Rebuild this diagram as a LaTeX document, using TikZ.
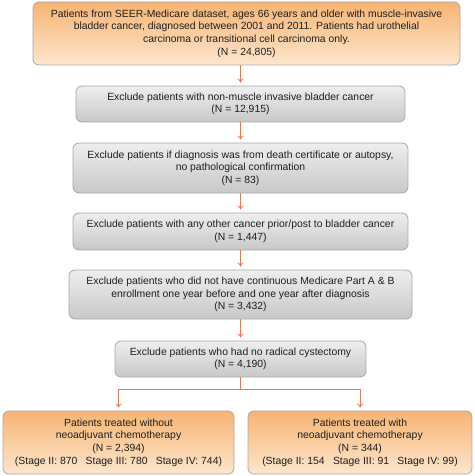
\documentclass[tikz,border=0pt]{standalone}
\usepackage{fontspec}
\setmainfont{Liberation Sans}
\usetikzlibrary{arrows.meta}
\definecolor{orT}{HTML}{F7B472}
\definecolor{orB}{HTML}{FDE6CE}
\definecolor{grT}{HTML}{EEEEEE}
\definecolor{grB}{HTML}{C8C8C8}
\definecolor{bordc}{HTML}{A8A8A8}
\definecolor{arrc}{HTML}{E27A55}
\definecolor{txtc}{HTML}{1E1E1E}
\tikzset{
  boxbase/.style={draw=bordc, line width=0.8pt, rounded corners=6pt, align=center,
    text=txtc, font=\fontsize{10.4}{12.6}\selectfont, inner sep=0pt},
  orbox/.style={boxbase, top color=orT, bottom color=orB},
  grbox/.style={boxbase, top color=grT, bottom color=grB},
  flow/.style={draw=arrc, line width=0.8pt, -{To[length=4pt,width=6pt]}, shorten >=3pt}
}
\begin{document}
\begin{tikzpicture}[x=1pt,y=-1pt]
\useasboundingbox (0,0) rectangle (474,476);
\node[orbox, minimum width=427pt, minimum height=63pt] (b1) at (246.5,33.5)
  {Patients from SEER-Medicare dataset, ages 66 years and older with muscle-invasive\\
   bladder cancer, diagnosed between 2001 and 2011. Patients had urothelial\\
   carcinoma or transitional cell carcinoma only.\\ (N = 24,805)};
\node[grbox, minimum width=329pt, minimum height=36pt] (b2) at (240.5,104)
  {Exclude patients with non-muscle invasive bladder cancer\\ (N = 12,915)};
\node[grbox, minimum width=335pt, minimum height=50pt] (b3) at (240.5,168)
  {Exclude patients if diagnosis was from death certificate or autopsy,\\
   no pathological confirmation\\ (N = 83)};
\node[grbox, minimum width=335pt, minimum height=37pt] (b4) at (240.5,231.5)
  {Exclude patients with any other cancer prior/post to bladder cancer\\ (N = 1,447)};
\node[grbox, minimum width=343pt, minimum height=49pt] (b5) at (240.5,294.5)
  {Exclude patients who did not have continuous Medicare Part A \& B\\
   enrollment one year before and one year after diagnosis\\ (N = 3,432)};
\node[grbox, minimum width=251pt, minimum height=36pt] (b6) at (240.5,359)
  {Exclude patients who had no radical cystectomy\\ (N = 4,190)};
\node[orbox, minimum width=231pt, minimum height=63pt] (b7) at (118.5,442.5)
  {Patients treated without\\ neoadjuvant chemotherapy\\ (N = 2,394)\\
   (Stage II: 870\hspace{0.8em}Stage III: 780\hspace{0.8em}Stage IV: 744)};
\node[orbox, minimum width=224pt, minimum height=63pt] (b8) at (360,442.5)
  {Patients treated with\\ neoadjuvant chemotherapy\\ (N = 344)\\
   (Stage II: 154\hspace{0.8em}Stage III: 91\hspace{0.8em}Stage IV: 99)};
\draw[flow] (b2.north |- b1.south) -- (b2.north);
\draw[flow] (b2.south) -- (b3.north);
\draw[flow] (b3.south) -- (b4.north);
\draw[flow] (b4.south) -- (b5.north);
\draw[flow] (b5.south) -- (b6.north);
\coordinate (split) at ([yshift=-12pt]b6.south);
\draw[draw=arrc, line width=0.8pt] (b6.south) -- (split);
\draw[flow] (split) -| (b7.north);
\draw[flow] (split) -| (b8.north);
\end{tikzpicture}
\end{document}
